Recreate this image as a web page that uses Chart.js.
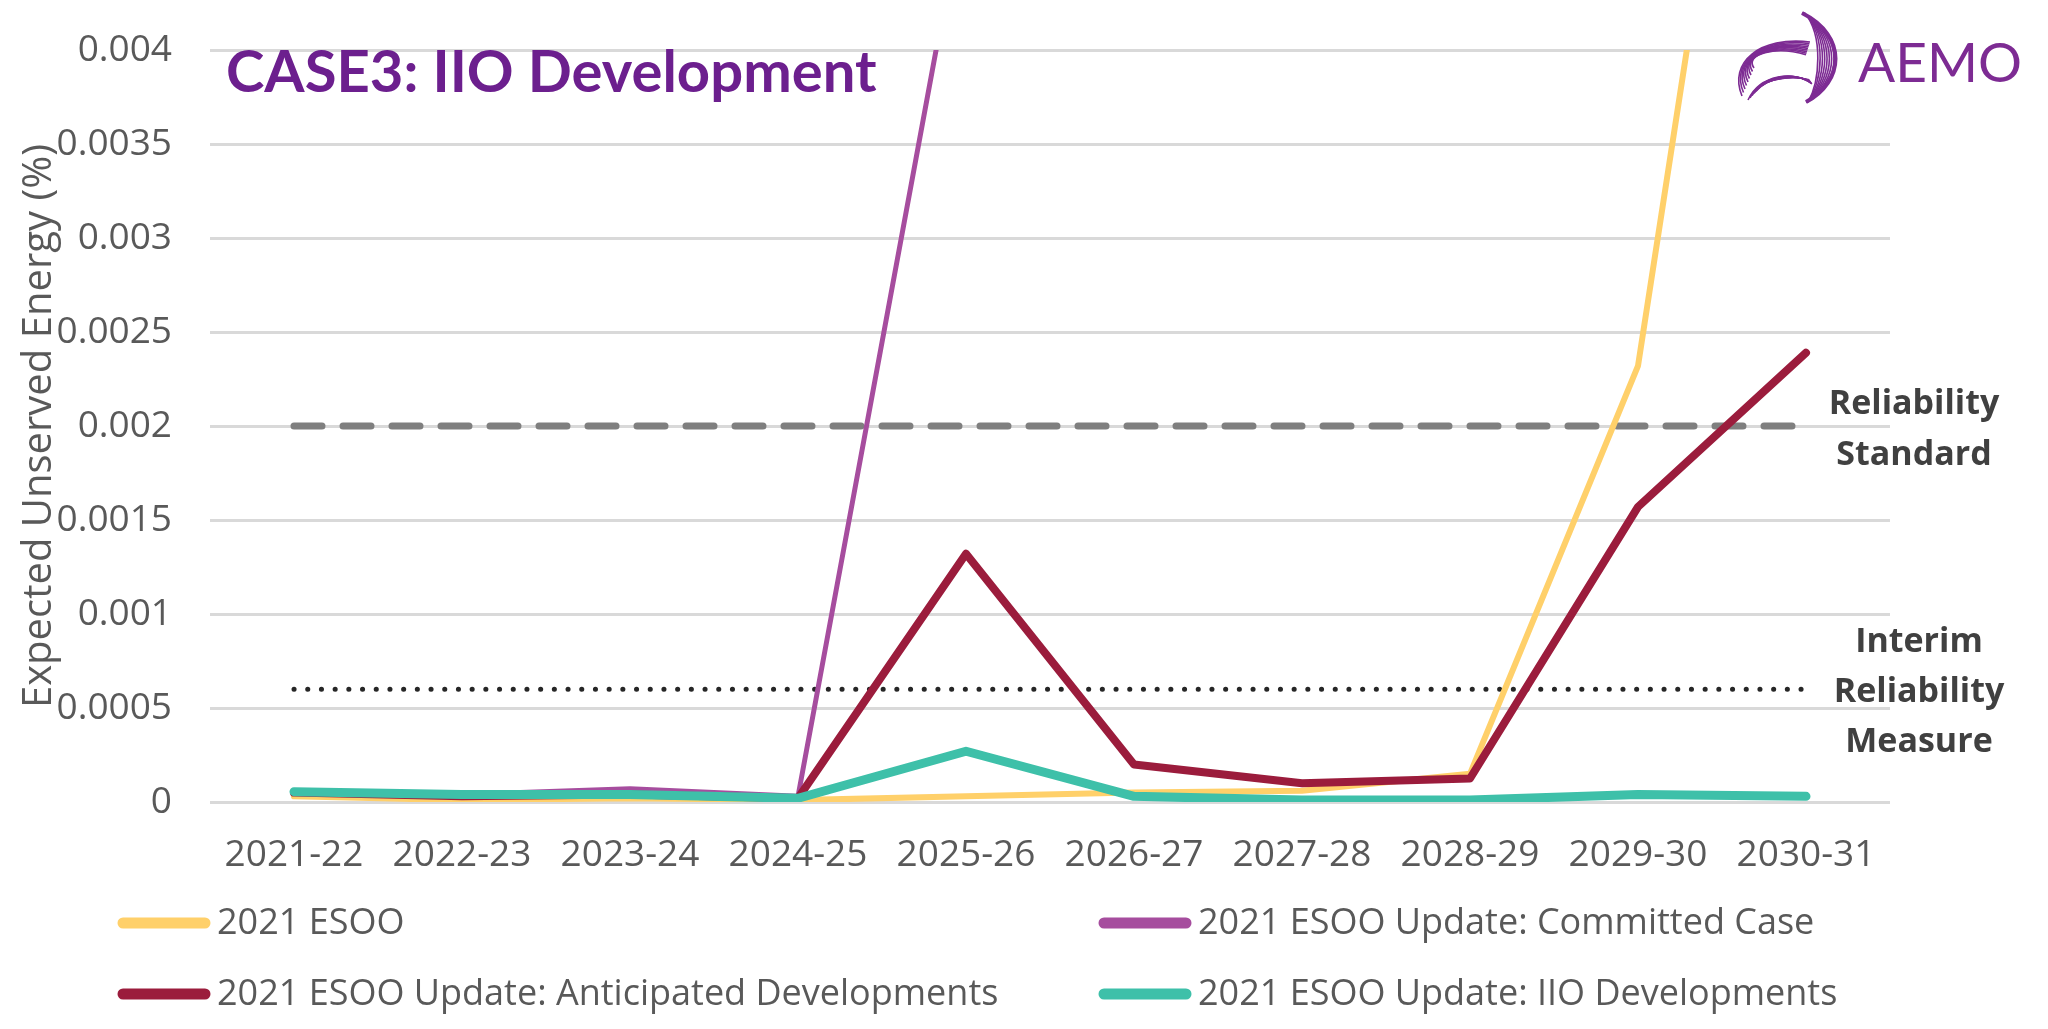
<!DOCTYPE html>
<html>
<head>
<meta charset="utf-8">
<script src="https://cdn.jsdelivr.net/npm/chart.js@4.4.1/dist/chart.umd.min.js"></script>
<style>
  html, body { margin: 0; padding: 0; background: #fff; }
  #wrap { width: 2048px; height: 1029px; position: relative; }
</style>
</head>
<body>
<div id="wrap"><canvas id="eueChart"></canvas></div>
<script>
// Financial years on the x axis
const years = ['2021-22', '2022-23', '2023-24', '2024-25', '2025-26', '2026-27', '2027-28', '2028-29', '2029-30', '2030-31'];

// Expected unserved energy (%)
const esoo2021 = [0.00003, 0.00001, 0.00002, 0.00001, 0.00003, 0.00005, 0.00006, 0.00015, 0.00232, 0.0081];
const committedCase = [0.00005, 0.00004, 0.00007, 0.00003, 0.00486, 0.0055, 0.006, 0.0065, 0.009, 0.012];
const anticipatedDev = [0.00005, 0.00003, 0.00004, 0.00002, 0.00132, 0.0002, 0.0001, 0.000125, 0.00157, 0.00239];
const iioDev = [0.000055, 0.00004, 0.00004, 0.00002, 0.00027, 0.00003, 0.00001, 0.00001, 0.00004, 0.00003];

// Reference levels
const reliabilityStandard = 0.002;
const interimMeasure = 0.0006;

const yTicks = { min: 0, max: 0.004, step: 0.0005 };

const seriesNames = [
    '2021 ESOO',
    '2021 ESOO Update: Committed Case',
    '2021 ESOO Update: Anticipated Developments',
    '2021 ESOO Update: IIO Developments'
];
const seriesColors = ['#FFD06A', '#A64D9E', '#9B1C3C', '#3EC0A9'];

const baseFont = "'Open Sans', 'DejaVu Sans', sans-serif";
const purple = '#7D2B93';

function drawLogo(ctx) {
    ctx.save();
    ctx.strokeStyle = purple;
    ctx.lineWidth = 1.6;
    // upper feathers
    for (let i = 0; i < 9; i++) {
        ctx.beginPath();
        ctx.moveTo(1742 + i * 1.5, 96 - i * 3.5);
        ctx.bezierCurveTo(1728 + i * 2, 62 - i * 1, 1760 + i * 2, 36 + i * 1.2, 1810 - i * 0.5, 42 + i * 1.6);
        ctx.stroke();
    }
    // lower feathers
    for (let i = 0; i < 8; i++) {
        ctx.beginPath();
        ctx.moveTo(1748 + i * 2, 100 - i * 2.2);
        ctx.bezierCurveTo(1760 + i * 2, 74 + i * 0.6, 1795, 70 + i * 0.8, 1812 - i * 0.4, 84 - i * 0.6);
        ctx.stroke();
    }
    // crescent
    for (let i = 0; i < 8; i++) {
        ctx.beginPath();
        ctx.moveTo(1802 + i * 0.4, 13);
        ctx.bezierCurveTo(1846 - i * 3.2, 36, 1842 - i * 3.2, 82, 1806 + i * 0.3, 102);
        ctx.stroke();
    }
    ctx.lineWidth = 4;
    ctx.beginPath();
    ctx.moveTo(1802, 13);
    ctx.bezierCurveTo(1848, 36, 1844, 82, 1806, 102);
    ctx.stroke();
    ctx.fillStyle = purple;
    ctx.font = "400 55px 'Lato', 'Open Sans', sans-serif";
    ctx.textAlign = 'left';
    ctx.textBaseline = 'alphabetic';
    ctx.fillText('AEMO', 1858, 82);
    ctx.restore();
}

// Title, logo, reference labels and the two-column legend
const decorations = {
    id: 'decorations',
    afterDraw(chart) {
        const ctx = chart.ctx;
        const area = chart.chartArea;
        const y = chart.scales.y;

        ctx.save();
        // chart title inside plot
        ctx.fillStyle = '#6C1F8E';
        ctx.font = "bold 58px 'Lato', 'Open Sans', sans-serif";
        ctx.textAlign = 'left';
        ctx.textBaseline = 'alphabetic';
        ctx.fillText('CASE3: IIO Development', area.left + 16, 92);

        // reference labels
        ctx.fillStyle = '#404040';
        ctx.font = 'bold 34px ' + baseFont;
        ctx.textAlign = 'center';
        ctx.textBaseline = 'middle';
        const lx = 1914;
        const ry = y.getPixelForValue(reliabilityStandard);
        ['Reliability', 'Standard'].forEach((t, i) => ctx.fillText(t, lx, ry - 22 + i * 51));
        const iy = y.getPixelForValue(interimMeasure);
        ['Interim', 'Reliability', 'Measure'].forEach((t, i) => ctx.fillText(t, lx + 5, iy - 47 + i * 50));

        drawLogo(ctx);

        // legend, two columns
        const cols = [118, 1099];
        const rows = [923, 994];
        ctx.font = '36px ' + baseFont;
        ctx.textAlign = 'left';
        ctx.textBaseline = 'middle';
        ctx.lineCap = 'round';
        seriesNames.forEach((name, i) => {
            const x = cols[i % 2];
            const yy = rows[Math.floor(i / 2)];
            ctx.strokeStyle = seriesColors[i];
            ctx.lineWidth = 11;
            ctx.beginPath();
            ctx.moveTo(x + 5, yy);
            ctx.lineTo(x + 87, yy);
            ctx.stroke();
            ctx.fillStyle = '#595959';
            ctx.fillText(name, x + 99, yy + 1);
        });
        ctx.restore();
    }
};

const lineWidths = [6, 5, 8, 9];
const drawOrder = [3, 2, 1, 0];
const seriesData = [esoo2021, committedCase, anticipatedDev, iioDev];

const datasets = seriesData.map((d, i) => ({
    label: seriesNames[i],
    data: d,
    borderColor: seriesColors[i],
    backgroundColor: seriesColors[i],
    borderWidth: lineWidths[i],
    borderJoinStyle: 'round',
    borderCapStyle: 'round',
    pointRadius: 0,
    tension: 0,
    order: drawOrder[i]
}));

datasets.push({
    label: 'Reliability Standard',
    data: years.map(() => reliabilityStandard),
    borderColor: '#7F7F7F',
    borderWidth: 7,
    borderDash: [28, 21],
    borderCapStyle: 'round',
    pointRadius: 0,
    order: 5
});
datasets.push({
    label: 'Interim Reliability Measure',
    data: years.map(() => interimMeasure),
    borderColor: '#262626',
    borderWidth: 5,
    borderDash: [0.1, 13.6],
    borderCapStyle: 'round',
    pointRadius: 0,
    order: 6
});

new Chart(document.getElementById('eueChart'), {
    type: 'line',
    data: { labels: years, datasets: datasets },
    options: {
        responsive: true,
        maintainAspectRatio: false,
        animation: false,
        layout: { padding: { top: 50, right: 158, bottom: 150, left: 0 } },
        plugins: {
            legend: { display: false },
            tooltip: { enabled: false }
        },
        scales: {
            x: {
                offset: true,
                grid: { display: false },
                border: { display: false },
                ticks: {
                    color: '#595959',
                    font: { family: baseFont, size: 37 },
                    padding: 23,
                    maxRotation: 0
                },
                afterFit(scale) { scale.height = 77; }
            },
            y: {
                min: yTicks.min,
                max: yTicks.max,
                grid: { color: '#D9D9D9', lineWidth: 3, drawTicks: false },
                border: { display: false },
                ticks: {
                    stepSize: yTicks.step,
                    color: '#595959',
                    font: { family: baseFont, size: 37 },
                    padding: 38,
                    callback: v => String(Number(v.toFixed(4)))
                },
                title: {
                    display: true,
                    text: 'Expected Unserved Energy (%)',
                    color: '#595959',
                    font: { family: baseFont, size: 40 },
                    padding: { top: 16, bottom: 0 }
                },
                afterFit(scale) {
                    scale.width = 210;
                    // tick padding should not push the plot down
                    scale.paddingTop = 0;
                    scale.paddingBottom = 0;
                }
            }
        }
    },
    plugins: [decorations]
});
</script>
</body>
</html>
